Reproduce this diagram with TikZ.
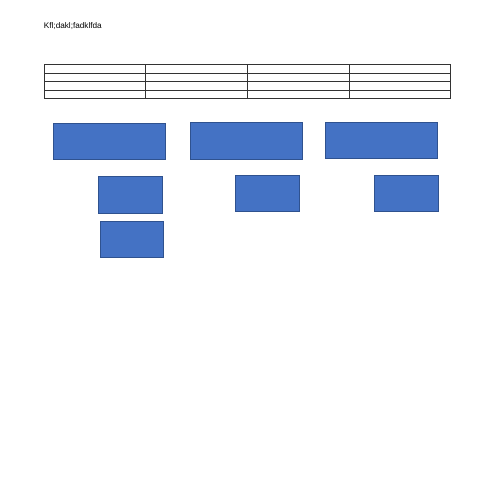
\documentclass[tikz,border=0pt]{standalone}
\usepackage{fontspec}
\setmainfont{Liberation Sans}
\definecolor{boxfill}{HTML}{4472C4}
\definecolor{boxline}{HTML}{2F528F}
\definecolor{gridline}{HTML}{333333}
\begin{document}
\begin{tikzpicture}[x=1pt,y=-1pt,
  bluebox/.style={fill=boxfill,draw=boxline,line width=0.7pt},
  gridstyle/.style={draw=gridline,line width=0.9pt}]
\useasboundingbox (0,0) rectangle (495,495);
\fill[white] (0,0) rectangle (495,495);
\node[anchor=base west,inner sep=0pt,font=\fontsize{8.2}{10}\selectfont] (title) at (43.7,29) {Kfl;dakl;fadklfda};
% table
\draw[gridstyle] (44,64.3) rectangle (450.7,98.8);
\foreach \yy in {73,81.6,90} \draw[gridstyle] (44,\yy) -- (450.7,\yy);
\foreach \xx in {145.7,247.3,349.3} \draw[gridstyle] (\xx,64.3) -- (\xx,98.8);
% boxes
\path[bluebox] (53.3,123.3) rectangle (165,159.3);
\path[bluebox] (190.7,122.8) rectangle (302.3,159.2);
\path[bluebox] (325.3,122.3) rectangle (437,158.7);
\path[bluebox] (98.7,176.7) rectangle (162,213);
\path[bluebox] (235.3,175.7) rectangle (299,211.7);
\path[bluebox] (374.7,175.7) rectangle (438,211.7);
\path[bluebox] (100,221.7) rectangle (163.3,257.7);
\end{tikzpicture}
\end{document}
